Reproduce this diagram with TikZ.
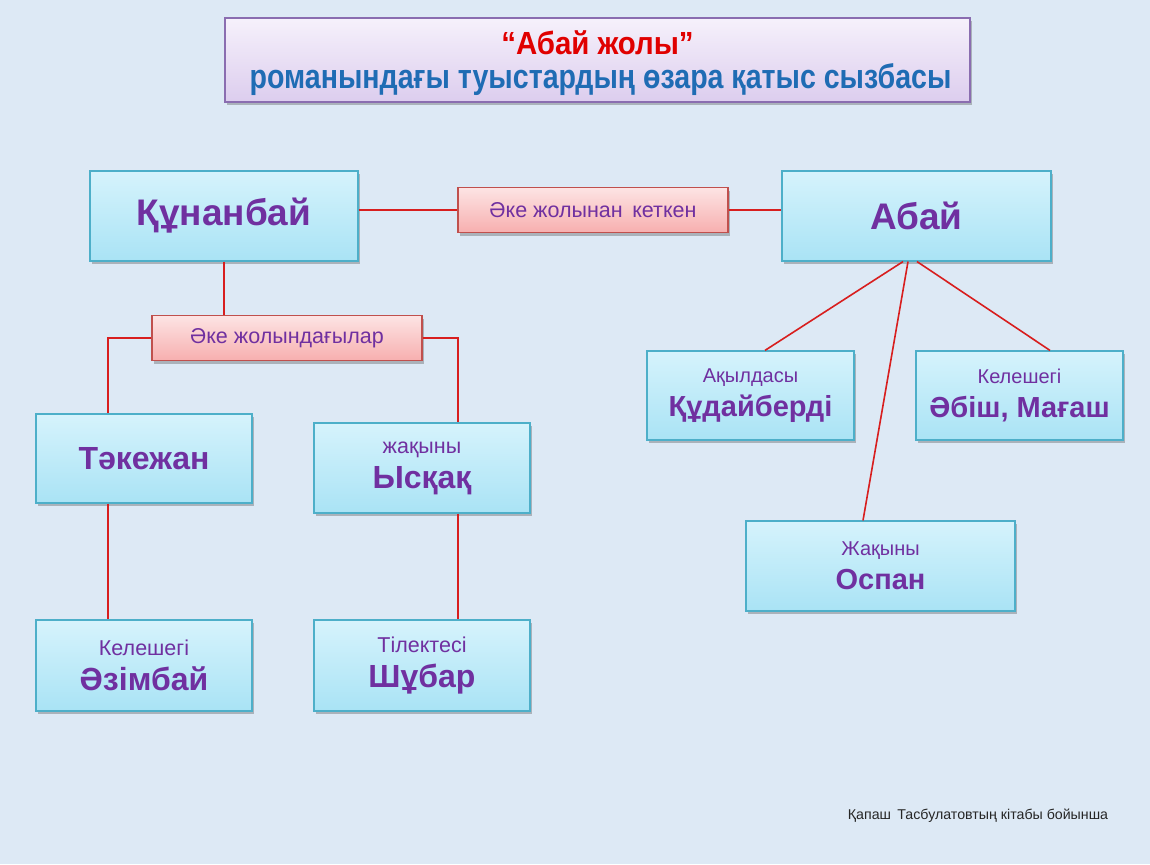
\documentclass[tikz,border=0pt]{standalone}
\usepackage{fontspec}
\usepackage{graphicx}
\setmainfont{Liberation Sans}
\usetikzlibrary{shadows}
\definecolor{bg}{HTML}{DDE9F5}
\definecolor{txt}{HTML}{7030A0}
\definecolor{ttlblue}{HTML}{1F6CB4}
\definecolor{ttlred}{HTML}{E00000}
\definecolor{lnred}{HTML}{D81E1E}
\definecolor{bluetop}{HTML}{D6F3FC}
\definecolor{bluebot}{HTML}{A9E3F5}
\definecolor{blueedge}{HTML}{4DAFC9}
\definecolor{redtop}{HTML}{FDE4E4}
\definecolor{redbot}{HTML}{F7AFAF}
\definecolor{rededge}{HTML}{C0504D}
\definecolor{ttledge}{HTML}{8A6DB0}
\definecolor{ttltop}{HTML}{F6F1FB}
\definecolor{ttlbot}{HTML}{DCCDEE}
\tikzset{
  shd/.style={drop shadow={opacity=0.35,shadow xshift=2pt,shadow yshift=-3pt,fill=black!70}},
  bluebox/.style={draw=blueedge,line width=1.2pt,top color=bluetop,bottom color=bluebot,shd,
    inner sep=0pt,text=txt,align=center},
  redbox/.style={draw=rededge,line width=1.2pt,top color=redtop,bottom color=redbot,shd,
    inner sep=0pt,text=txt,align=center,font=\fontsize{21.5}{24}\selectfont},
  conn/.style={draw=lnred,line width=1.6pt},
  big/.style={font=\fontsize{37}{42}\selectfont\bfseries},
  mid/.style={font=\fontsize{32}{34}\selectfont\bfseries},
  midr/.style={font=\fontsize{29}{32}\selectfont\bfseries}
}
\newcommand{\sm}[1]{{\fontsize{21.5}{24}\mdseries\selectfont #1}}
\newcommand{\smr}[1]{{\fontsize{20}{23}\mdseries\selectfont #1}}
\begin{document}
\begin{tikzpicture}[x=1pt,y=-1pt]
\fill[bg] (0,0) rectangle (1150,864);
\useasboundingbox (0,0) rectangle (1150,864);
% title
\node[draw=ttledge,line width=1.2pt,top color=ttltop,bottom color=ttlbot,shd,
  minimum width=745pt,minimum height=84pt,inner sep=0pt] (title) at (597.5,60) {};
\node[text=ttlred,font=\fontsize{32}{34}\selectfont\bfseries] (t1) at (597.5,43) {\scalebox{0.92}[1]{“Абай жолы”}};
\node[text=ttlblue,font=\fontsize{34}{36}\selectfont\bfseries] (t2) at (600.5,80) {\scalebox{0.84}[1]{романындағы туыстардың өзара қатыс сызбасы}};
% main nodes
\node[bluebox,big,minimum width=268pt,minimum height=90pt] (kun) at (224,216) {Құнанбай};
\node[bluebox,big,minimum width=269pt,minimum height=90pt] (abai) at (916.5,216) {Абай};
\node[redbox,minimum width=270pt,minimum height=45pt] (r1) at (593,210) {Әке жолынан\, кеткен};
\node[redbox,minimum width=270pt,minimum height=45pt] (r2) at (287,338) {Әке жолындағылар};
\node[bluebox,mid,minimum width=216pt,minimum height=89pt] (tak) at (144,458.5) {Тәкежан};
\node[bluebox,mid,minimum width=216pt,minimum height=90pt] (ysk) at (422,468) {\sm{жақыны}\\[1pt]Ысқақ};
\node[bluebox,mid,minimum width=216pt,minimum height=91pt] (azi) at (144,665.5) {\sm{Келешегі}\\[1pt]Әзімбай};
\node[bluebox,mid,minimum width=216pt,minimum height=91pt] (shu) at (422,665.5) {\sm{Тілектесі}\\[1pt]Шұбар};
\node[bluebox,midr,minimum width=207pt,minimum height=89pt] (kud) at (750.5,395.5) {\smr{Ақылдасы}\\[2pt]Құдайберді};
\node[bluebox,midr,minimum width=207pt,minimum height=89pt] (abi) at (1019.5,395.5) {\smr{Келешегі}\\[2pt]Әбіш, Мағаш};
\node[bluebox,midr,minimum width=269pt,minimum height=90pt] (osp) at (880.5,566) {\smr{Жақыны}\\[2pt]Оспан};
% footer
\node[font=\fontsize{14.2}{16}\selectfont,text=black!85] (foot) at (978,816) {Қапаш\, Тасбулатовтың кітабы бойынша};
% connectors
\draw[conn] (r1.west -| kun.east) -- (r1.west);
\draw[conn] (r1.east) -- (r1.east -| abai.west);
\draw[conn] (kun.south) -- (r2.north -| kun.south);
\draw[conn] (r2.west) -| (tak.north -| 108,0);
\draw[conn] (r2.east) -| (ysk.north -| 458,0);
\draw[conn] (tak.south -| 108,0) -- (azi.north -| 108,0);
\draw[conn] (ysk.south -| 458,0) -- (shu.north -| 458,0);
\draw[conn] (abai.south -| 903,0) -- (kud.north -| 765,0);
\draw[conn] (abai.south -| 917,0) -- (abi.north -| 1050,0);
\draw[conn] (abai.south -| 908,0) -- (osp.north -| 863,0);
\end{tikzpicture}
\end{document}
